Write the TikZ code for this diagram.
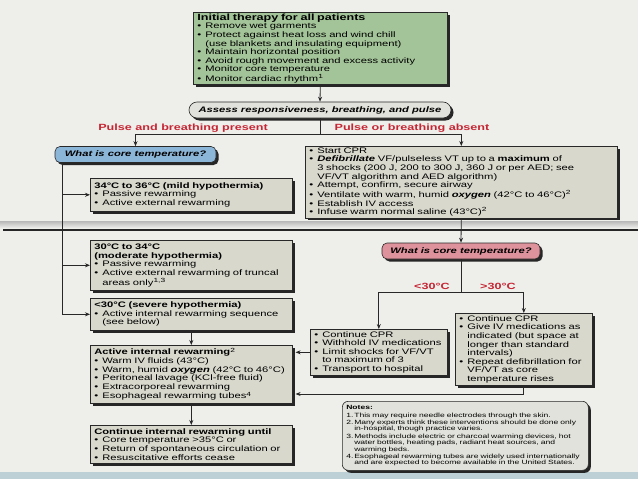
\documentclass[tikz,border=0pt]{standalone}
\usepackage{fontspec}
\setmainfont{Liberation Sans}[FakeStretch=1.4]
\usepackage{tikz}
\usetikzlibrary{arrows.meta,shadows}

\definecolor{bgpage}{RGB}{238,238,235}
\definecolor{boxgreen}{RGB}{163,196,152}
\definecolor{boxgrey}{RGB}{216,216,205}
\definecolor{boxblue}{RGB}{140,182,216}
\definecolor{boxpink}{RGB}{222,146,156}
\definecolor{ovalgrey}{RGB}{226,226,220}
\definecolor{notegrey}{RGB}{226,226,220}
\definecolor{lblred}{RGB}{198,38,52}
\definecolor{inkdark}{RGB}{40,40,40}
\definecolor{edgeblue}{RGB}{188,208,214}

\newcommand{\itm}{\makebox[8pt][l]{\textbullet}}
\newcommand{\ind}{\hspace*{8pt}}
\newcommand{\nr}[1]{\makebox[8pt][l]{#1}}

\tikzset{
	conn/.style={line width=0.8pt, draw=inkdark},
	arr/.style={conn, -{Stealth[length=5pt,width=4pt]}},
	shade/.style={drop shadow={shadow xshift=2.5pt, shadow yshift=-2.5pt, fill=black!85, opacity=1}},
	txtbox/.style={draw=inkdark, line width=0.6pt, fill=boxgrey, shade, anchor=north west, align=left, inner xsep=4pt, inner ysep=1.5pt, font=\fontsize{8}{8.6}\selectfont},
	askbox/.style={draw=inkdark, line width=0.6pt, shade, rounded corners=5pt, inner sep=0pt, font=\fontsize{8}{9}\selectfont\bfseries\itshape},
	branch/.style={text=lblred, inner sep=1pt, font=\fontsize{9}{10}\selectfont\bfseries}
}

\begin{document}
\begin{tikzpicture}[x=1pt,y=-1pt]
			%%%%% START %%%%%
			
			\useasboundingbox (0,0) rectangle (638,479);
			\fill[bgpage] (0,0) rectangle (638,479);
			\shade[top color=black!28, bottom color=bgpage] (0,221) rectangle (638,228);
			\fill[edgeblue] (0,472) rectangle (638,479);
			
			\node[txtbox, fill=boxgreen, text width=246pt, minimum height=72pt] (init) at (193,12)
				{{\fontsize{9}{9}\selectfont\textbf{Initial therapy for all patients}}\\
				\itm Remove wet garments\\
				\itm Protect against heat loss and wind chill\\
				\ind (use blankets and insulating equipment)\\
				\itm Maintain horizontal position\\
				\itm Avoid rough movement and excess activity\\
				\itm Monitor core temperature\\
				\itm Monitor cardiac rhythm\textsuperscript{1}};
			
			\node[askbox, fill=ovalgrey, rounded corners=8pt, minimum width=262pt, minimum height=16pt] (assess) at (320,110)
				{Assess responsiveness, breathing, and pulse};
			
			\node[branch] (present) at (183,128) {Pulse and breathing present};
			\node[branch] (absent) at (412,128) {Pulse or breathing absent};
			
			% left branch
			\node[askbox, fill=boxblue, minimum width=161pt, minimum height=16pt] (coreA) at (135.5,154.5)
				{What is core temperature?};
			
			\node[txtbox, text width=194pt, minimum height=33pt] (mild) at (90,178)
				{\textbf{34°C to 36°C (mild hypothermia)}\\
				\itm Passive rewarming\\
				\itm Active external rewarming};
			
			\node[txtbox, text width=194pt, minimum height=50pt] (moderate) at (90,240)
				{\textbf{30°C to 34°C}\\
				\textbf{(moderate hypothermia)}\\
				\itm Passive rewarming\\
				\itm Active external rewarming of truncal\\
				\ind areas only\textsuperscript{1,3}};
			
			\node[txtbox, text width=194pt, minimum height=32pt] (severe) at (90,298)
				{\textbf{<30°C (severe hypothermia)}\\
				\itm Active internal rewarming sequence\\
				\ind (see below)};
			
			\node[txtbox, text width=194pt, minimum height=58pt] (active) at (90,345)
				{\textbf{Active internal rewarming}\textsuperscript{2}\\
				\itm Warm IV fluids (43°C)\\
				\itm Warm, humid \textbf{\textit{oxygen}} (42°C to 46°C)\\
				\itm Peritoneal lavage (KCl-free fluid)\\
				\itm Extracorporeal rewarming\\
				\itm Esophageal rewarming tubes\textsuperscript{4}};
			
			\node[txtbox, text width=194pt, minimum height=38pt] (until) at (90,425)
				{\textbf{Continue internal rewarming until}\\
				\itm Core temperature >35°C or\\
				\itm Return of spontaneous circulation or\\
				\itm Resuscitative efforts cease};
			
			% right branch
			\node[txtbox, text width=304pt, minimum height=71pt] (cpr) at (305,146)
				{\itm Start CPR\\
				\itm \textbf{\textit{Defibrillate}} VF/pulseless VT up to a \textbf{maximum} of\\
				\ind 3 shocks (200 J, 200 to 300 J, 360 J or per AED; see\\
				\ind VF/VT algorithm and AED algorithm)\\
				\itm Attempt, confirm, secure airway\\
				\itm Ventilate with warm, humid \textbf{\textit{oxygen}} (42°C to 46°C)\textsuperscript{2}\\
				\itm Establish IV access\\
				\itm Infuse warm normal saline (43°C)\textsuperscript{2}};
			
			\node[askbox, fill=boxpink, minimum width=158pt, minimum height=16pt] (coreB) at (461,251)
				{What is core temperature?};
			
			\node[branch] (low) at (432,286) {<30°C};
			\node[branch] (high) at (498,286) {>30°C};
			
			\node[txtbox, text width=129pt, minimum height=46pt] (withhold) at (310,329)
				{\itm Continue CPR\\
				\itm Withhold IV medications\\
				\itm Limit shocks for VF/VT\\
				\ind to maximum of 3\\
				\itm Transport to hospital};
			
			\node[txtbox, text width=129pt, minimum height=72pt] (giveiv) at (455,313)
				{\itm Continue CPR\\
				\itm Give IV medications as\\
				\ind indicated (but space at\\
				\ind longer than standard\\
				\ind intervals)\\
				\itm Repeat defibrillation for\\
				\ind VF/VT as core\\
				\ind temperature rises};
			
			\node[txtbox, fill=notegrey, rounded corners=6pt, text width=238pt, minimum height=69pt, inner ysep=2pt, font=\fontsize{6.1}{6.4}\selectfont] (notes) at (342,401)
				{\textbf{Notes:}\\[1pt]
				\nr{1.}This may require needle electrodes through the skin.\\[1pt]
				\nr{2.}Many experts think these interventions should be done only\\
				\ind in-hospital, though practice varies.\\[1pt]
				\nr{3.}Methods include electric or charcoal warming devices, hot\\
				\ind water bottles, heating pads, radiant heat sources, and\\
				\ind warming beds.\\[1pt]
				\nr{4.}Esophageal rewarming tubes are widely used internationally\\
				\ind and are expected to become available in the United States.};
			
			% connectors
			\coordinate (split) at (320,134);
			\coordinate (trunk) at (62,162.5);
			\coordinate (fork) at (461,292);
			\coordinate (back) at (0,394);
			
			\draw[arr] (init.south) -- (assess.north);
			\draw[conn] (assess.south) -- (split);
			\draw[arr] (split) -| (coreA.north);
			\draw[arr] (split) -| (cpr.north);
			
			\draw[arr] (trunk) |- (severe.west);
			\draw[arr] (trunk |- mild.west) -- (mild.west);
			\draw[arr] (trunk |- moderate.west) -- (moderate.west);
			\draw[arr] (severe.south) -- (active.north);
			\draw[arr] (active.south) -- (until.north);
			
			\draw[arr] (cpr.south) -- (coreB.north);
			\draw[conn] (coreB.south) -- (fork);
			\draw[arr] (fork) -| (withhold.north);
			\draw[arr] (fork) -| (giveiv.north);
			\draw[arr] (withhold.west) -- ([xshift=3pt]withhold.west -| active.east);
			\draw[arr] (giveiv.south) |- ([xshift=3pt]back -| active.east);
			
			%%%%% END %%%%%
\end{tikzpicture}
\end{document}
